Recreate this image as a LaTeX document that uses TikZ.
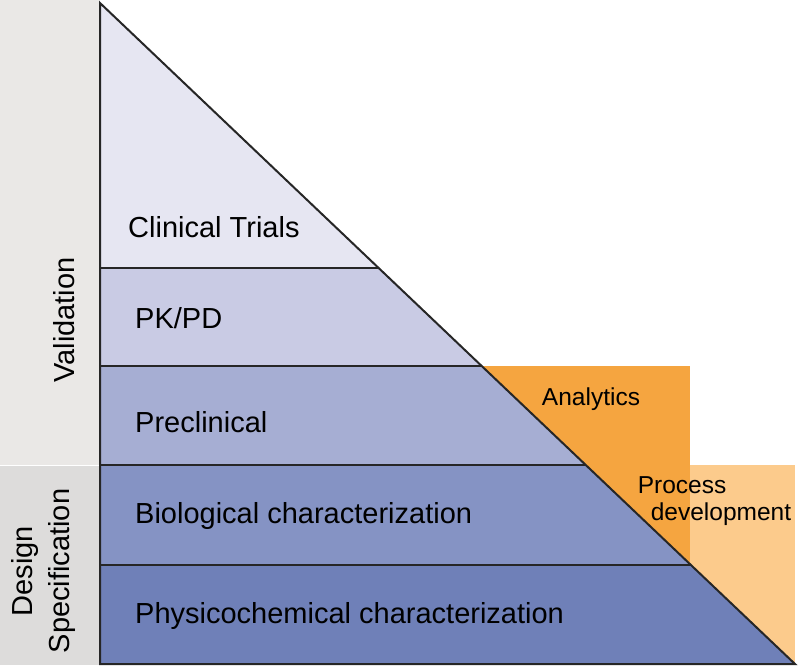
\documentclass[tikz,border=0pt]{standalone}
\usepackage{fontspec}
\setmainfont{Liberation Sans}
\usepackage{tikz}

\definecolor{valgray}{HTML}{EAE8E6}
\definecolor{desgray}{HTML}{DDDCDB}
\definecolor{clincol}{HTML}{E6E6F2}
\definecolor{pkpdcol}{HTML}{C9CBE4}
\definecolor{precol}{HTML}{A6AED3}
\definecolor{biocol}{HTML}{8593C4}
\definecolor{physcol}{HTML}{6F80B8}
\definecolor{anacol}{HTML}{F5A540}
\definecolor{proccol}{HTML}{FCCB8C}

\tikzset{
  layer/.style={draw=black!85, line width=2pt},
  biglabel/.style={anchor=base west, inner sep=0pt, font=\fontsize{29}{33}\selectfont},
  sidelabel/.style={rotate=90, inner sep=0pt, align=center, font=\fontsize{29}{37}\selectfont},
  boxlabel/.style={anchor=base, inner sep=0pt, font=\fontsize{24.5}{27}\selectfont}
}

\begin{document}
\begin{tikzpicture}[x=1pt, y=-1pt]

    \useasboundingbox (0,0) rectangle (800,668);

    % side bands
    \fill[valgray] (0,0) rectangle (100,465);
    \fill[desgray] (0,466) rectangle (100,665);

    % boxes behind the triangle
    \fill[proccol] (560,465) rectangle (795,664);
    \fill[anacol] (460,366) rectangle (690,565);

    % corner points of the triangle
    \coordinate (top) at (100,3);
    \coordinate (bl) at (100,664);
    \coordinate (br) at (795,664);

    % layers, top to bottom
    \fill[clincol] (100,3) -- (378.6,268) -- (100,268) -- cycle;
    \fill[pkpdcol] (100,268) -- (378.6,268) -- (481.6,366) -- (100,366) -- cycle;
    \fill[precol] (100,366) -- (481.6,366) -- (585.7,465) -- (100,465) -- cycle;
    \fill[biocol] (100,465) -- (585.7,465) -- (690.8,565) -- (100,565) -- cycle;
    \fill[physcol] (100,565) -- (690.8,565) -- (795,664) -- (100,664) -- cycle;

    \draw[layer] (100,268) -- (378.6,268);
    \draw[layer] (100,366) -- (481.6,366);
    \draw[layer] (100,465) -- (585.7,465);
    \draw[layer] (100,565) -- (690.8,565);
    \draw[layer, line join=miter] (top) -- (br) -- (bl) -- cycle;

    % texts
    \node[biglabel] (clinical) at (128,238) {Clinical Trials};
    \node[biglabel] (pkpd) at (135,328) {PK/PD};
    \node[biglabel] (preclin) at (135,432) {Preclinical};
    \node[biglabel] (bio) at (135,523) {Biological characterization};
    \node[biglabel] (phys) at (135,623) {Physicochemical characterization};

    \node[sidelabel] (valid) at (64,320) {Validation};
    \node[sidelabel] (design) at (44,571) {Design\\Specification};

    \node[boxlabel] (analytics) at (591,405) {Analytics};
    \node[boxlabel] (procA) at (682,493) {Process};
    \node[boxlabel] (procB) at (721,520) {development};

  \end{tikzpicture}
\end{document}
